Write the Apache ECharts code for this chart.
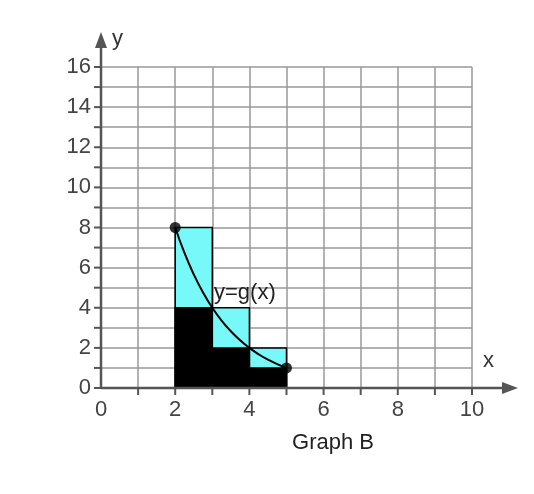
<!DOCTYPE html><html><head><meta charset="utf-8"><script src="https://cdn.jsdelivr.net/npm/echarts@6/dist/echarts.min.js"></script></head><body style="margin:0;background:#fff"><div id="c" style="width:534px;height:494px"></div><script>
const xLabels=[0,2,4,6,8,10];
const yLabels=[0,2,4,6,8,10,12,14,16];
const barStarts=[2,3,4];
const upperHeights=[8,4,2];
const lowerHeights=[4,2,1];
const curveX=[2,2.25,2.5,2.75,3,3.25,3.5,3.75,4,4.25,4.5,4.75,5];
const curveY=[8,6.73,5.66,4.76,4,3.36,2.83,2.38,2,1.68,1.41,1.19,1];
const ends=[[2,8],[5,1]];
const chart=echarts.init(document.getElementById('c'));
function rects(h,color){return{type:'custom',data:barStarts.map((s,i)=>[s,s+1,h[i]]),renderItem:(p,api)=>{const a=api.coord([api.value(0),0]),b=api.coord([api.value(1),api.value(2)]);return{type:'rect',shape:{x:a[0],y:b[1],width:b[0]-a[0],height:a[1]-b[1]},style:{fill:color,stroke:'#000',lineWidth:1.5}}},z:2};}
const ax={splitLine:{show:true,lineStyle:{color:'#999',width:1.5}},axisLine:{show:false},axisTick:{show:false},axisLabel:{color:'#444',fontSize:22,fontFamily:'Liberation Sans'}};
chart.setOption({animation:false,grid:{left:101,right:62,top:67,bottom:106},
xAxis:Object.assign({type:'value',min:0,max:10,interval:1},ax,{axisLabel:Object.assign({},ax.axisLabel,{margin:11,formatter:v=>xLabels.includes(v)?v:''})}),
yAxis:Object.assign({type:'value',min:0,max:16,interval:1},ax,{axisLabel:Object.assign({},ax.axisLabel,{margin:10,formatter:v=>yLabels.includes(v)?v:''})}),
series:[rects(upperHeights,'#77f9f9'),rects(lowerHeights,'#000'),
{type:'line',data:curveX.map((x,i)=>[x,curveY[i]]),smooth:true,symbol:'none',lineStyle:{color:'#000',width:2},z:4},
{type:'scatter',data:ends,symbolSize:11,itemStyle:{color:'#000'},z:5}]});
const o=chart.convertToPixel('grid',[0,0]);
const g=[{type:'line',shape:{x1:o[0],y1:o[1],x2:512,y2:o[1]},style:{stroke:'#555',lineWidth:2.5},z:10},
{type:'polygon',shape:{points:[[518,o[1]],[502,o[1]-6],[502,o[1]+6]]},style:{fill:'#555'},z:10},
{type:'line',shape:{x1:o[0],y1:o[1],x2:o[0],y2:38},style:{stroke:'#555',lineWidth:2.5},z:10},
{type:'polygon',shape:{points:[[o[0],32],[o[0]-6,48],[o[0]+6,48]]},style:{fill:'#555'},z:10},
{type:'text',x:483,y:350,style:{text:'x',fontSize:22,fill:'#333',fontFamily:'Liberation Sans'},z:10},
{type:'text',x:112,y:28,style:{text:'y',fontSize:22,fill:'#333',fontFamily:'Liberation Sans'},z:10},
{type:'text',x:333,y:443,style:{text:'Graph B',fontSize:22,fill:'#222',align:'center',verticalAlign:'middle',fontFamily:'Liberation Sans'},z:10},
{type:'text',x:214,y:282,style:{text:'y=g(x)',fontSize:22,fill:'#222',fontFamily:'Liberation Sans'},z:10}];
for(let i=0;i<=16;i++){const p=chart.convertToPixel('grid',[0,i]);g.push({type:'line',shape:{x1:o[0]-7,y1:p[1],x2:o[0],y2:p[1]},style:{stroke:'#555',lineWidth:2},z:10});}
for(let i=1;i<=10;i++){const p=chart.convertToPixel('grid',[i,0]);g.push({type:'line',shape:{x1:p[0],y1:o[1],x2:p[0],y2:o[1]+7},style:{stroke:'#555',lineWidth:2},z:10});}
chart.setOption({graphic:g});
</script></body></html>
